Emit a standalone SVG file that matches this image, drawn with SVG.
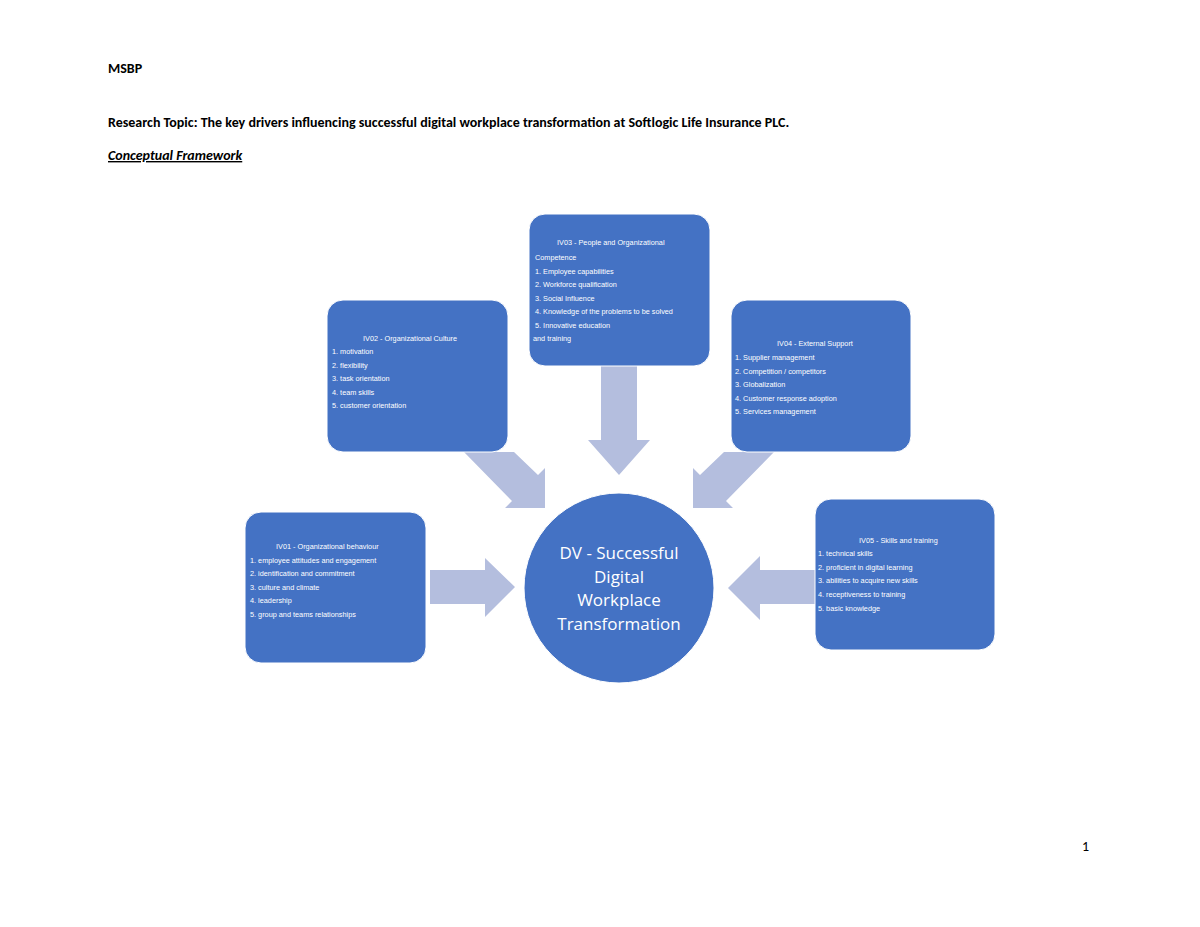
<svg xmlns="http://www.w3.org/2000/svg" width="1200" height="927" viewBox="0 0 1200 927">
<style>
.h{font-family:Carlito,"Liberation Sans",sans-serif;font-weight:bold;font-size:14px;fill:#000}
.box{fill:#4472C4;stroke:#fff;stroke-width:1}
.arr{fill:#B4BEDE}
.t{font-family:"Liberation Sans",sans-serif;font-size:7.3px;fill:#fff}
.c{font-family:"Open Sans","Liberation Sans",sans-serif;font-size:17px;fill:#fff;text-anchor:middle}
</style>
<rect width="1200" height="927" fill="#fff"/>
<text class="h" x="108" y="73">MSBP</text>
<text class="h" x="108" y="127">Research Topic: The key drivers influencing successful digital workplace transformation at Softlogic Life Insurance PLC.</text>
<text class="h" x="108" y="160" font-style="italic" text-decoration="underline">Conceptual Framework</text>
<text x="1082" y="851" font-family="Carlito,'Liberation Sans',sans-serif" font-size="14">1</text>
<g id="connectors">
<polygon class="arr" points="601,360 637,360 637,440 650,440 619,475 588,440 601,440"/>
<polygon class="arr" points="464,452 514,452 538,475 545,468 545,508 505,508 512,501"/>
<polygon class="arr" points="774,452 724,452 700,475 693,468 693,508 733,508 726,501"/>
<polygon class="arr" points="430,570 485,570 485,558 515,587 485,617 485,604 430,604"/>
<polygon class="arr" points="815,570 760,570 760,556 728,588 760,620 760,604 815,604"/>
</g>
<g id="iv03">
<rect class="box" x="529" y="214" width="181" height="152" rx="16"/>
<text class="t" x="557" y="245">IV03 - People and Organizational</text>
<text class="t" x="535" y="260">Competence</text>
<text class="t" x="535" y="274">1. Employee capabilities</text>
<text class="t" x="535" y="287">2. Workforce qualification</text>
<text class="t" x="535" y="301">3. Social Influence</text>
<text class="t" x="535" y="314">4.  Knowledge of the problems to be solved</text>
<text class="t" x="535" y="328">5. Innovative education</text>
<text class="t" x="533" y="341">and training</text>
</g>
<g id="iv02">
<rect class="box" x="327" y="300" width="181" height="152" rx="16"/>
<text class="t" x="363" y="341">IV02 - Organizational Culture</text>
<text class="t" x="332" y="354">1. motivation</text>
<text class="t" x="332" y="368">2. flexibility</text>
<text class="t" x="332" y="381">3. task orientation</text>
<text class="t" x="332" y="395">4. team skills</text>
<text class="t" x="332" y="408">5. customer orientation</text>
</g>
<g id="iv04">
<rect class="box" x="731" y="300" width="180" height="152" rx="16"/>
<text class="t" x="777" y="346">IV04 - External Support</text>
<text class="t" x="735" y="360">1. Supplier management</text>
<text class="t" x="735" y="374">2. Competition / competitors</text>
<text class="t" x="735" y="387">3. Globalization</text>
<text class="t" x="735" y="401">4. Customer response adoption</text>
<text class="t" x="735" y="414">5. Services management</text>
</g>
<g id="iv01">
<rect class="box" x="245" y="512" width="181" height="151" rx="16"/>
<text class="t" x="276" y="549">IV01 - Organizational behaviour</text>
<text class="t" x="250" y="563">1. employee attitudes and engagement</text>
<text class="t" x="250" y="576">2. identification and commitment</text>
<text class="t" x="250" y="590">3. culture and climate</text>
<text class="t" x="250" y="603">4. leadership</text>
<text class="t" x="250" y="617">5. group and teams relationships</text>
</g>
<g id="iv05">
<rect class="box" x="815" y="499" width="180" height="151" rx="16"/>
<text class="t" x="859" y="543">IV05 - Skills and training</text>
<text class="t" x="818" y="556">1. technical skills</text>
<text class="t" x="818" y="570">2. proficient in digital learning</text>
<text class="t" x="818" y="583">3. abilities to acquire new skills</text>
<text class="t" x="818" y="597">4. receptiveness to training</text>
<text class="t" x="818" y="611">5. basic knowledge</text>
</g>
<g id="dv">
<circle cx="619" cy="588" r="95" fill="#4472C4" stroke="#fff"/>
<text class="c" x="619" y="559">DV - Successful</text>
<text class="c" x="619" y="583">Digital</text>
<text class="c" x="619" y="606">Workplace</text>
<text class="c" x="619" y="630">Transformation</text>
</g>
</svg>
